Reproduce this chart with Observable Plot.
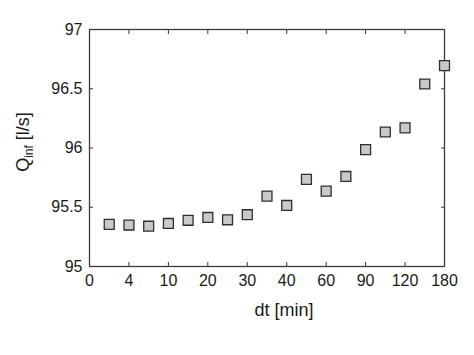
<!DOCTYPE html>
<html><head><meta charset="utf-8">
<script src="https://cdn.jsdelivr.net/npm/d3@7"></script>
<script src="https://cdn.jsdelivr.net/npm/@observablehq/plot@0.6"></script>
<style>
body{margin:0;background:#fff}
svg{font-family:"Liberation Sans",Arial,Helvetica,sans-serif}
</style>
</head><body><div id="c"></div>
<script>
const dtValues = [2,4,6,10,15,20,25,30,35,40,50,60,75,90,105,120,150,180];
const qInf = [95.355,95.35,95.34,95.363,95.39,95.414,95.394,95.437,95.594,95.515,95.735,95.636,95.76,95.986,96.135,96.17,96.54,96.695];
const xTickLabels = ["0","4","10","20","30","40","60","90","120","180"];
const yTicks = [95,95.5,96,96.5,97];

const data = dtValues.map((dt,i)=>({pos:i+1, dt, q:qInf[i]}));
const xTickPos = xTickLabels.map((_,i)=>2*i);

const plot = Plot.plot({
  width:474, height:355,
  marginLeft:89, marginRight:30, marginTop:29, marginBottom:89,
  style:{fontSize:"16px", fontFamily:"'Liberation Sans',Arial,sans-serif", color:"#1a1a1a", background:"#fff"},
  x:{domain:[0,18]},
  y:{domain:[95,97]},
  marks:[
    Plot.frame({stroke:"#3a3a3a", strokeWidth:1.3}),
    Plot.axisX(xTickPos, {anchor:"bottom", tickSize:-4, tickFormat:()=>"", label:null, stroke:"#3a3a3a"}),
    Plot.axisX(xTickPos, {anchor:"top", tickSize:-4, tickFormat:()=>"", label:null, stroke:"#3a3a3a"}),
    Plot.axisX(xTickPos, {anchor:"bottom", tickSize:0, tickPadding:8, tickFormat:v=>xTickLabels[v/2], label:null}),
    Plot.axisY(yTicks, {anchor:"left", tickSize:-4, tickFormat:()=>"", label:null, stroke:"#3a3a3a"}),
    Plot.axisY(yTicks, {anchor:"right", tickSize:-4, tickFormat:()=>"", label:null, stroke:"#3a3a3a"}),
    Plot.axisY(yTicks, {anchor:"left", tickSize:0, tickPadding:7, tickFormat:d=>String(d), label:null}),
    Plot.dot(data, {x:"pos", y:"q", symbol:"square", r:5.6, fill:"#c9c9c9", stroke:"#2e2e2e", strokeWidth:1.3, fillOpacity:1})
  ]
});
document.getElementById("c").appendChild(plot);

const svg = d3.select(plot);
svg.append("text")
  .attr("x", 284).attr("y", 316)
  .attr("text-anchor","middle")
  .attr("font-size", 18)
  .attr("fill","#1a1a1a")
  .text("dt [min]");

const yl = svg.append("text")
  .attr("transform","translate(29,142) rotate(-90)")
  .attr("text-anchor","middle")
  .attr("font-size", 18)
  .attr("fill","#1a1a1a");
yl.append("tspan").text("Q");
yl.append("tspan").attr("font-size",12).attr("dy",4).text("inf");
yl.append("tspan").attr("dy",-4).text(" [l/s]");
</script>
</body></html>
